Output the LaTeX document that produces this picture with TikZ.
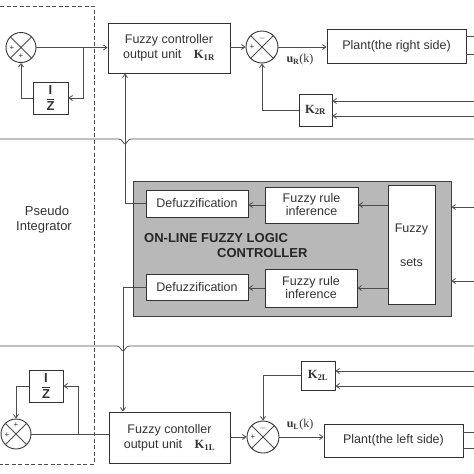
\documentclass[tikz,border=0pt]{standalone}
\usepackage{fontspec}
\setmainfont{Liberation Sans}
\newfontfamily\serifm{Liberation Serif}
\usetikzlibrary{arrows.meta,calc}
\begin{document}
\begin{tikzpicture}[x=1pt,y=-1pt,
  ln/.style={draw=black!70, line width=0.8pt},
  arr/.style={ln, -{Straight Barb[length=3.5pt,width=5pt]}},
  dsh/.style={draw=black!70, line width=0.8pt, dash pattern=on 4pt off 2.5pt},
  box/.style={draw=black!80, line width=0.9pt, fill=white, inner sep=0pt, align=center,
    font=\fontsize{12.5}{15}\selectfont, text=black!80},
  sumnode/.style={circle, draw=black!80, line width=0.9pt, minimum size=30pt, inner sep=0pt},
  sgn/.style={font=\fontsize{8}{8}\selectfont, inner sep=0pt, text=black!80},
  lbl/.style={inner sep=0pt, text=black!80, font=\fontsize{13}{15}\selectfont},
  frac/.style={box, font=\fontsize{13}{13}\selectfont}
]
\useasboundingbox (0,0) rectangle (474,474);

% ---- pseudo integrator frame
\draw[dsh] (0,6) -- (94,6) -- (94,464) -- (0,464);
\node[lbl, align=center] (pi) at (44,220) {\hspace*{6pt}Pseudo\\Integrator};

% ---- top (right side) loop
\node[sumnode] (sL1) at (21,47.5) {};
\draw[ln] (sL1.45) -- (sL1.225) (sL1.135) -- (sL1.315);
\node[sgn] (pL1a) at (12,48) {+};
\node[sgn] (pL1b) at (21,56) {+};
\node[box, minimum width=122pt, minimum height=50pt] (fcR) at (169,48)
  {Fuzzy controller\\output unit\quad{\serifm\bfseries K\textsubscript{1R}}};
\node[frac, minimum width=35pt, minimum height=32pt] (izR) at (50.5,98)
  {$\displaystyle\frac{\mathbf{I}}{\mathbf{Z}}$};
\node[sumnode, minimum size=32pt] (sR1) at (262,47) {};
\draw[ln] (sR1.45) -- (sR1.225) (sR1.135) -- (sR1.315);
\node[sgn] (mR1) at (262,38) {$-$};
\node[sgn] (pR1) at (252,47) {+};
\node[box, minimum width=139pt, minimum height=34pt] (plR) at (396.5,46) {Plant(the right side)};
\node[box, minimum width=33pt, minimum height=32pt] (k2R) at (315.5,110)
  {{\serifm\bfseries K\textsubscript{2R}}};
\node[lbl, font=\serifm\fontsize{12}{12}\selectfont] (uR) at (300,60)
  {{\bfseries u}\textsubscript{\bfseries R}(k)};

\coordinate (bR) at (83,47.5);
\draw[arr] (sL1.east) -- (sL1.east -| fcR.west);
\draw[arr] (bR) |- (izR.east);
\draw[arr] (izR.west) -| (sL1.south);
\draw[arr] (fcR.east |- sR1.west) -- (sR1.west);
\draw[arr] (sR1.east) -- (sR1.east -| plR.west);
\coordinate (oR1) at (474,36); \coordinate (oR2) at (474,54);
\draw[ln] (oR1 -| plR.east) -- (oR1);
\draw[ln] (oR2 -| plR.east) -- (oR2);
\coordinate (eR1) at (474,101); \coordinate (eR2) at (474,116);
\draw[arr] (eR1) -- (eR1 -| k2R.east);
\draw[arr] (eR2) -- (eR2 -| k2R.east);
\draw[arr] (k2R.west) -| (sR1.south);

% ---- long horizontal lines with jumps
\coordinate (hL1) at (0,139); \coordinate (hR1) at (474,139);
\draw[ln] (hL1) -- (119,139) .. controls (122,139) and (123.5,144) .. (125,144)
  .. controls (126.5,144) and (128,139) .. (131,139) -- (hR1);
\coordinate (hL2) at (0,346); \coordinate (hR2) at (474,346);
\draw[ln] (hL2) -- (117,346) .. controls (120,346) and (121.5,351) .. (123,351)
  .. controls (124.5,351) and (126,346) .. (129,346) -- (hR2);

% ---- on-line fuzzy logic controller
\node[draw=black!75, line width=0.9pt, fill=black!28, minimum width=318pt, minimum height=135pt, inner sep=0pt]
  (flc) at (292,248.5) {};
\node[box, minimum width=102pt, minimum height=27pt] (dz1) at (197,203.5) {Defuzzification};
\node[box, minimum width=93pt, minimum height=36pt, font=\fontsize{12.5}{13}\selectfont] (in1) at (311.5,205) {Fuzzy rule\\inference};
\node[box, minimum width=47pt, minimum height=119pt, font=\fontsize{12.5}{34}\selectfont] (fs) at (411.5,245) {Fuzzy\\sets};
\node[box, minimum width=102pt, minimum height=26pt] (dz2) at (197,287.5) {Defuzzification};
\node[box, minimum width=92pt, minimum height=38pt, font=\fontsize{12.5}{13}\selectfont] (in2) at (311,288) {Fuzzy rule\\inference};
\node[lbl, font=\bfseries\fontsize{13}{15}\selectfont, text=black!85, anchor=west] (t1) at (144,238) {ON-LINE FUZZY LOGIC};
\node[lbl, font=\bfseries\fontsize{13}{15}\selectfont, text=black!85, anchor=west] (t2) at (217,253.5) {CONTROLLER};

\draw[arr] (fs.west |- in1.east) -- (in1.east);
\draw[arr] (in1.west) -- (in1.west -| dz1.east);
\draw[arr] (fs.west |- in2.east) -- (in2.east);
\draw[arr] (in2.west) -- (in2.west -| dz2.east);
\coordinate (eG1) at (474,207); \coordinate (eG2) at (474,281);
\draw[arr] (eG1) -- (eG1 -| flc.east);
\draw[arr] (eG2) -- (eG2 -| flc.east);

\coordinate (j1) at (125,0); \coordinate (j2) at (123,0);

% ---- bottom (left side) loop
\node[sumnode] (sL2) at (16,434) {};
\draw[ln] (sL2.45) -- (sL2.225) (sL2.135) -- (sL2.315);
\node[sgn] (pL2a) at (7,435) {+};
\node[sgn] (pL2b) at (16,425) {+};
\node[box, minimum width=121pt, minimum height=51pt] (fcL) at (169.5,437.5)
  {Fuzzy contoller\\output unit\quad{\serifm\bfseries K\textsubscript{1L}}};
\node[frac, minimum width=34pt, minimum height=32pt] (izL) at (46,386)
  {$\displaystyle\frac{\mathbf{I}}{\mathbf{Z}}$};
\node[sumnode, minimum size=32pt] (sR2) at (263,437) {};
\draw[ln] (sR2.45) -- (sR2.225) (sR2.135) -- (sR2.315);
\node[sgn] (mR2) at (263,428) {$-$};
\node[sgn] (pR2) at (253,437) {+};
\node[box, minimum width=139pt, minimum height=33pt] (plL) at (393.5,440.5) {Plant(the left side)};
\node[box, minimum width=34pt, minimum height=29pt] (k2L) at (318,375.5)
  {{\serifm\bfseries K\textsubscript{2L}}};
\node[lbl, font=\serifm\fontsize{12}{12}\selectfont] (uL) at (300,425)
  {{\bfseries u}\textsubscript{\bfseries L}(k)};

\coordinate (bL) at (78,434);
\draw[ln] (sL2.east) -- (sL2.east -| fcL.west);
\draw[arr] (bL) |- (izL.east);
\draw[arr] (izL.west) -| (sL2.north);
\draw[arr] (fcL.east |- sR2.west) -- (sR2.west);
\draw[arr] (sR2.east) -- (sR2.east -| plL.west);
\coordinate (oL1) at (474,432); \coordinate (oL2) at (474,448);
\draw[ln] (oL1 -| plL.east) -- (oL1);
\draw[ln] (oL2 -| plL.east) -- (oL2);
\coordinate (eL1) at (474,371); \coordinate (eL2) at (474,386);
\draw[arr] (eL1) -- (eL1 -| k2L.east);
\draw[arr] (eL2) -- (eL2 -| k2L.east);
\draw[arr] (k2L.west) -| (sR2.north);

% ---- defuzzification outputs to the output units
\draw[arr] (dz1.west) -| (j1 |- fcR.south);
\draw[arr] (dz2.west) -| (j2 |- fcL.north);
\end{tikzpicture}
\end{document}
